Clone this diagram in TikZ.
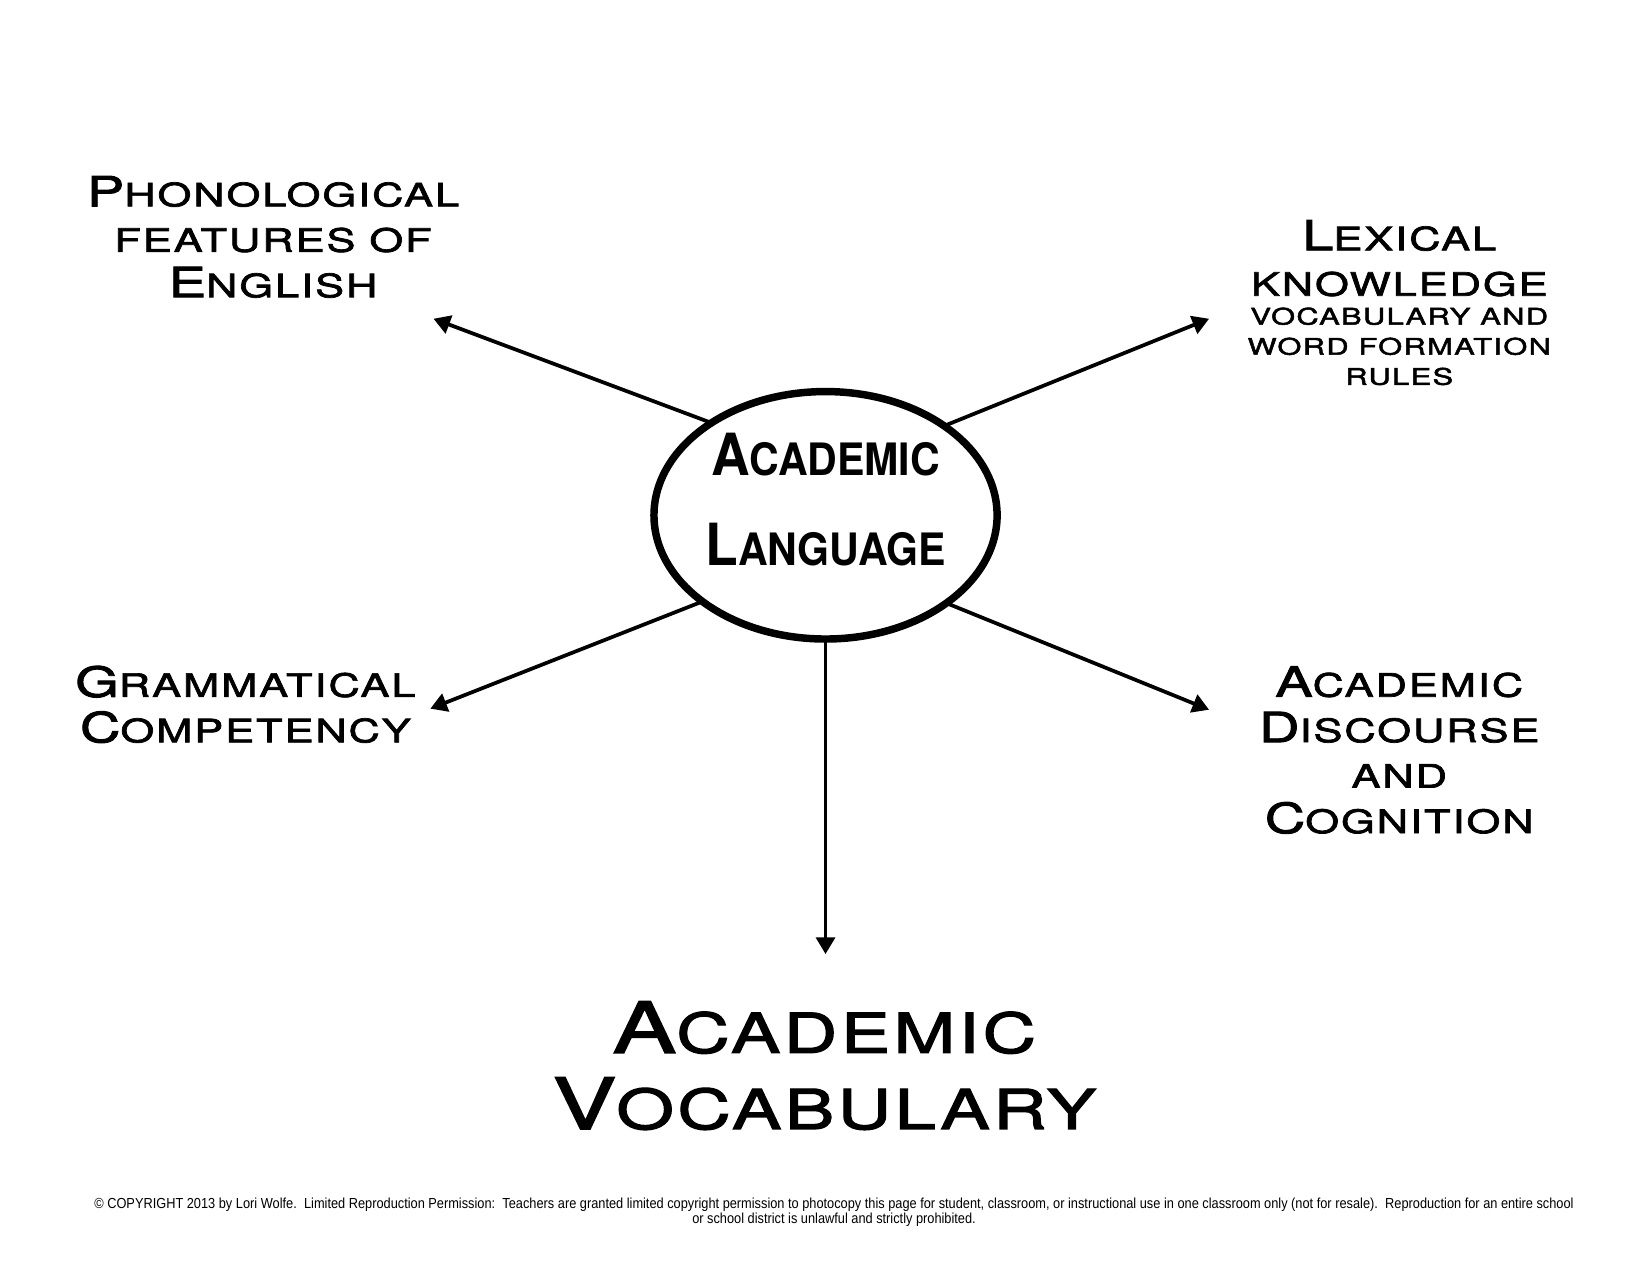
\documentclass[tikz,border=0pt]{standalone}
\usepackage{fontspec}
\usetikzlibrary{arrows.meta,shapes.geometric}
\newfontfamily\platefont[FakeStretch=1.35,LetterSpace=6,FakeBold=2.2]{TeX Gyre Heros}
\newfontfamily\ovalfont[FakeStretch=0.92]{TeX Gyre Heros Bold}
\newfontfamily\notefont[FakeStretch=0.88]{Liberation Sans}
\newcommand{\initial}[2][20]{{\fontsize{#1}{#1}\selectfont #2}}

\begin{document}
\begin{tikzpicture}[x=0.01799cm,y=-0.01799cm,
		topic/.style={font=\platefont\fontsize{15.5}{21.9}\selectfont,align=center,inner sep=0pt},
		spoke/.style={line width=1.8pt,-{Triangle[length=8pt,width=9pt]}}]
		\useasboundingbox (0,0) rectangle (1553,1200);
		\node[ellipse,draw,line width=3.6pt,minimum width=5.81cm,minimum height=4.19cm,inner sep=0pt,outer sep=0pt] (lang) at (777,485) {};
		\node[align=center,inner sep=0pt,font=\ovalfont\fontsize{21.5}{43.4}\selectfont] (langtxt) at (777,470) {\initial[28]{A}CADEMIC\\\initial[28]{L}ANGUAGE};
		\node[topic] (phon) at (257,223) {\initial{P}HONOLOGICAL\\FEATURES OF\\\initial{E}NGLISH};
		\node[topic] (lex) at (1317,243) {\initial{L}EXICAL\\KNOWLEDGE};
		\node[topic,font=\platefont\fontsize{11}{14.5}\selectfont] (lexsub) at (1317,326) {VOCABULARY AND\\WORD FORMATION\\RULES};
		\node[topic] (gram) at (231,663) {\initial{G}RAMMATICAL\\\initial{C}OMPETENCY};
		\node[topic] (disc) at (1317,706) {\initial{A}CADEMIC\\\initial{D}ISCOURSE\\AND\\\initial{C}OGNITION};
		\node[topic,font=\platefont\fontsize{26.5}{36.7}\selectfont] (vocab) at (776,1003) {\initial[34]{A}CADEMIC\\\initial[34]{V}OCABULARY};
		\node[align=center,inner sep=0pt,font=\notefont\fontsize{7}{7.2}\selectfont] (note) at (785,1141) {\textcopyright{} COPYRIGHT 2013 by Lori Wolfe.\enspace Limited Reproduction Permission:\enspace Teachers are granted limited copyright permission to photocopy this page for student, classroom, or instructional use in one classroom only (not for resale).\enspace Reproduction for an entire school\\or school district is unlawful and strictly prohibited.};
		\coordinate (phontip) at (408,300);
		\coordinate (lextip) at (1138,300);
		\coordinate (gramtip) at (405,667);
		\coordinate (disctip) at (1138,668);
		\coordinate (vocabtip) at (777,898);
		\draw[spoke] (lang.141)--(phontip);
		\draw[spoke] (lang.37)--(lextip);
		\draw[spoke] (lang.215)--(gramtip);
		\draw[spoke] (lang.324)--(disctip);
		\draw[spoke] (lang.south)--(vocabtip);
	\end{tikzpicture}
\end{document}
